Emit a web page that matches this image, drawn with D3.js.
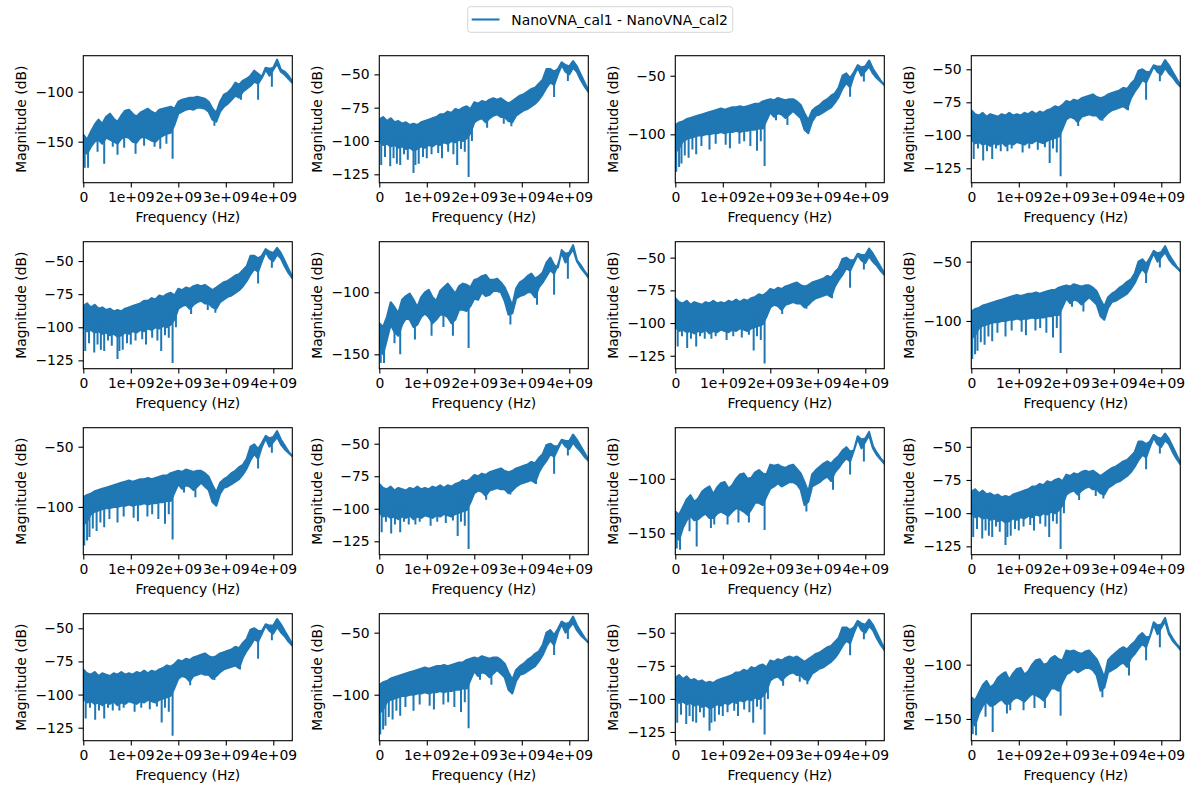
<!DOCTYPE html>
<html><head><meta charset="utf-8">
<script src="https://cdn.jsdelivr.net/npm/d3@7"></script>
<style>body{margin:0;background:#fff} text{font-family:"DejaVu Sans",sans-serif}</style>
</head><body><svg id="c" width="1200" height="800" xmlns="http://www.w3.org/2000/svg"></svg>
<script>
// ---- data ----
const sampleStepHz = 0.08e9;           // spacing of the band samples below
const xMaxHz = 4.4e9;
const xTickValues = [0, 1e9, 2e9, 3e9, 4e9];
const xTickLabels = ["0", "1e+09", "2e+09", "3e+09", "4e+09"];
const legendLabel = "NanoVNA_cal1 - NanoVNA_cal2";

// Each trace: top of the noisy band, bottom of the band (dB, one value per sample),
// and the narrow downward spikes [GHz, dB].
const topA1 = [-143,-148,-140,-133,-128,-132,-125,-122,-127,-130,-124,-119,-118,-122,-125,-121,-119,-117,-120,-122,
 -118,-117,-116,-115,-117,-110,-108,-107,-106,-106,-105,-106,-107,-110,-117,-121,-110,-103,-101,-97,
 -91,-93,-89,-87,-84,-79,-82,-85,-76,-77,-76,-68,-78,-80,-84,-90];
const botA1 = [-160,-162,-155,-150,-148,-152,-146,-148,-150,-152,-147,-145,-146,-150,-151,-146,-145,-147,-149,-150,
 -146,-144,-142,-141,-133,-122,-120,-118,-117,-118,-116,-116,-117,-120,-128,-130,-120,-115,-112,-108,
 -104,-106,-100,-97,-94,-90,-92,-86,-78,-84,-78,-72,-80,-83,-87,-91];
const spikesA1 = [[0.03,-176],[0.10,-176],[0.30,-160],[0.44,-172],[0.62,-155],[0.72,-163],[0.86,-156],[1.10,-162],
 [1.28,-154],[1.50,-155],[1.62,-157],[1.75,-152],[1.88,-167],[2.76,-134],[3.32,-108],[3.68,-108],[3.97,-95]];

const topA2 = [-125,-128,-120,-108,-112,-117,-106,-103,-101,-106,-112,-104,-100,-98,-104,-107,-99,-96,-93,-97,
 -101,-95,-93,-94,-96,-90,-89,-87,-86,-90,-90,-89,-92,-96,-103,-111,-97,-92,-90,-87,
 -85,-89,-87,-84,-76,-72,-78,-80,-66,-69,-68,-62,-74,-78,-83,-87];
const botA2 = [-145,-150,-138,-126,-132,-135,-126,-121,-122,-128,-126,-120,-117,-120,-125,-122,-118,-118,-120,-125,
 -122,-114,-114,-115,-111,-105,-106,-100,-103,-102,-99,-99,-100,-107,-118,-117,-105,-103,-102,-100,
 -100,-104,-96,-92,-87,-82,-85,-78,-68,-76,-70,-65,-75,-80,-84,-88];
const spikesA2 = [[0.03,-157],[0.10,-157],[0.32,-141],[0.44,-150],[0.75,-138],[1.10,-135],[1.35,-128],[1.55,-135],
 [1.88,-145],[2.76,-126],[3.32,-110],[3.68,-102],[3.97,-89]];

const topA3 = [-130,-133,-126,-119,-115,-121,-118,-112,-109,-107,-114,-108,-104,-103,-109,-106,-100,-96,-95,-100,
 -99,-94,-92,-95,-96,-87,-88,-87,-89,-90,-88,-87,-91,-95,-103,-112,-96,-92,-89,-86,
 -84,-86,-82,-79,-74,-71,-75,-74,-61,-64,-63,-57,-70,-76,-81,-85];
const botA3 = [-152,-156,-145,-138,-134,-138,-137,-134,-132,-136,-136,-132,-130,-132,-134,-130,-127,-128,-130,-133,
 -128,-122,-122,-124,-116,-109,-107,-104,-107,-105,-103,-103,-105,-110,-124,-121,-107,-105,-103,-100,
 -98,-102,-94,-90,-85,-81,-84,-74,-63,-72,-66,-60,-72,-78,-82,-86];
const spikesA3 = [[0.03,-164],[0.10,-165],[0.30,-148],[0.45,-162],[0.75,-145],[0.82,-142],[1.10,-142],[1.33,-140],
 [1.55,-140],[1.88,-147],[2.76,-130],[3.32,-110],[3.68,-96],[3.97,-84]];

const topB1 = [-84,-82,-85,-83,-86,-85,-87,-86,-88,-87,-88,-86,-85,-84,-83,-82,-80,-80,-78,-79,
 -76,-77,-75,-74,-76,-71,-72,-70,-71,-69,-68,-69,-68,-70,-72,-70,-68,-66,-65,-63,
 -61,-60,-57,-54,-46,-46,-48,-46,-41,-43,-44,-40,-44,-50,-56,-62];
const botB1 = [-100,-103,-102,-104,-103,-105,-104,-106,-105,-107,-106,-104,-105,-103,-104,-102,-103,-101,-102,-100,
 -101,-99,-100,-98,-94,-86,-84,-83,-86,-83,-81,-80,-82,-82,-85,-86,-81,-79,-77,-76,
 -74,-72,-69,-65,-60,-56,-58,-50,-43,-48,-50,-45,-48,-54,-59,-63];
const spikesB1 = [[0.04,-118],[0.12,-112],[0.23,-119],[0.30,-113],[0.37,-117],[0.44,-118],[0.52,-110],[0.60,-114],
 [0.72,-124],[0.76,-118],[0.83,-117],[0.92,-112],[1.00,-113],[1.10,-110],[1.24,-109],[1.32,-113],[1.45,-108],
 [1.56,-110],[1.64,-118],[1.72,-106],[1.80,-108],[1.88,-127],[1.95,-100],[2.27,-90],[2.62,-87],[2.78,-89],
 [3.68,-67],[3.97,-55]];

const topB2 = [-81,-84,-85,-83,-86,-84,-85,-86,-84,-85,-83,-85,-84,-85,-83,-84,-82,-84,-82,-83,
 -81,-80,-78,-79,-77,-74,-75,-73,-74,-72,-71,-70,-69,-71,-72,-71,-69,-68,-67,-66,
 -64,-65,-61,-58,-51,-50,-52,-52,-47,-48,-48,-43,-47,-52,-57,-62];
const botB2 = [-103,-106,-105,-107,-106,-108,-106,-107,-105,-108,-106,-107,-105,-106,-107,-105,-106,-104,-105,-106,
 -104,-103,-102,-101,-95,-88,-86,-87,-90,-86,-85,-84,-85,-85,-88,-86,-83,-81,-80,-79,
 -78,-80,-72,-67,-63,-58,-60,-54,-48,-52,-54,-49,-53,-56,-60,-63];
const spikesB2 = [[0.05,-118],[0.14,-110],[0.25,-119],[0.33,-112],[0.44,-118],[0.52,-110],[0.62,-112],[0.76,-112],
 [0.85,-110],[1.08,-113],[1.22,-110],[1.40,-111],[1.55,-109],[1.65,-121],[1.72,-110],[1.80,-113],[1.88,-131],
 [2.25,-93],[2.76,-89],[3.30,-81],[3.68,-73],[3.97,-59]];

const topC = [-92,-90,-89,-87,-86,-85,-84,-83,-82,-81,-80,-79,-78,-79,-78,-77,-77,-76,-77,-76,
 -75,-74,-74,-72,-71,-70,-71,-69,-70,-71,-70,-70,-72,-75,-82,-88,-80,-77,-75,-72,
 -70,-67,-65,-60,-50,-48,-52,-47,-41,-43,-42,-37,-44,-49,-54,-58];
const botC = [-115,-112,-106,-104,-103,-102,-101,-101,-100,-100,-99,-99,-98,-99,-98,-98,-97,-98,-97,-97,
 -96,-96,-95,-95,-88,-81,-85,-82,-83,-86,-83,-80,-83,-86,-96,-99,-89,-84,-83,-81,
 -79,-77,-73,-68,-61,-56,-60,-50,-43,-50,-46,-42,-48,-52,-55,-58];
const spikesC = [[0.02,-132],[0.08,-128],[0.13,-125],[0.20,-118],[0.28,-120],[0.36,-113],[0.44,-117],[0.55,-110],
 [0.72,-113],[0.85,-108],[1.06,-109],[1.15,-112],[1.35,-108],[1.45,-106],[1.58,-110],[1.72,-114],[1.80,-106],
 [1.88,-127],[2.12,-88],[2.36,-92],[3.68,-68],[3.97,-55]];

// which trace each of the 16 panels shows (row by row)
const panelTraces = ["A1","B1","C","B2", "B1","A2","B2","C", "C","B2","A3","B1", "B2","C","B1","A3"];
// y-axis limits of each panel (dB)
const panelYMin = [-191,-131.3,-141.3,-135.9, -131.3,-161.6,-134.9,-140.2, -139.7,-135.3,-169.6,-131.3, -134.8,-137.1,-131.6,-170];
const panelYMax = [-64,-36,-32.9,-39.7, -35.4,-59.2,-37.8,-33.2, -34.2,-37.7,-53.1,-35.6, -39.0,-34.7,-35.6,-53.1];
// y tick values of each panel
const ticks4 = [-125,-100,-75,-50], ticksC = [-100,-50], ticksA = [-150,-100];
const panelYTicks = [ticksA,ticks4,ticksC,ticks4, ticks4,ticksA,ticks4,ticksC, ticksC,ticks4,ticksA,ticks4, ticks4,ticksC,ticks4,ticksA];

// ---- drawing ----
const traces = {
  A1: {top: topA1, bot: botA1, spikes: spikesA1},
  A2: {top: topA2, bot: botA2, spikes: spikesA2},
  A3: {top: topA3, bot: botA3, spikes: spikesA3},
  B1: {top: topB1, bot: botB1, spikes: spikesB1},
  B2: {top: topB2, bot: botB2, spikes: spikesB2},
  C:  {top: topC,  bot: botC,  spikes: spikesC}
};
const colLeft = [83.3, 379.3, 675.3, 971.3];
const rowTop = [55.7, 241.7, 427.7, 613.7];
const W = 209, H = 127;
const blue = "#1f77b4";
const fs = "13.9px";
const minus = s => String(s).replace("-", "\u2212");

const svg = d3.select("#c");
svg.append("rect").attr("width",1200).attr("height",800).attr("fill","#fff");

const x = d3.scaleLinear().domain([0, xMaxHz]).range([0, W]);

panelTraces.forEach((key, p) => {
  const r = Math.floor(p / 4), c = p % 4;
  const g = svg.append("g").attr("transform", `translate(${colLeft[c]},${rowTop[r]})`);
  const y = d3.scaleLinear().domain([panelYMin[p], panelYMax[p]]).range([H, 0]);
  const t = traces[key];
  const rows = t.top.map((v, i) => ({f: i * sampleStepHz, top: v, bot: t.bot[i]}));

  g.append("clipPath").attr("id", "clip" + p).append("rect").attr("width", W).attr("height", H);
  const plot = g.append("g").attr("clip-path", `url(#clip${p})`);

  plot.append("path")
    .attr("d", d3.area().x(d => x(d.f)).y0(d => y(d.bot)).y1(d => y(d.top))(rows))
    .attr("fill", blue).attr("stroke", blue).attr("stroke-width", 2.08)
    .attr("stroke-linejoin", "round");

  plot.selectAll("path.spike").data(t.spikes).join("path").attr("class", "spike")
    .attr("d", s => {
      const j = Math.min(rows.length - 1, Math.round(s[0] * 1e9 / sampleStepHz));
      const mid = (rows[j].top + rows[j].bot) / 2;
      return d3.line()([[x(s[0] * 1e9), y(mid)], [x(s[0] * 1e9), y(s[1])]]);
    })
    .attr("fill", "none").attr("stroke", blue).attr("stroke-width", 2).attr("stroke-linecap", "butt");

  // axes
  const xa = g.append("g").attr("transform", `translate(0,${H})`)
    .call(d3.axisBottom(x).tickValues(xTickValues).tickFormat((d, i) => xTickLabels[i]).tickSize(4.86).tickPadding(4.3).tickSizeOuter(0));
  const ya = g.append("g")
    .call(d3.axisLeft(y).tickValues(panelYTicks[p]).tickFormat(d => minus(d)).tickSize(4.86).tickPadding(4.86).tickSizeOuter(0));
  [xa, ya].forEach(a => {
    a.select(".domain").remove();
    a.selectAll("line").attr("stroke", "#000").attr("stroke-width", 1.1);
    a.selectAll("text").attr("fill", "#000").style("font-size", fs).style("font-family", "DejaVu Sans");
  });

  g.append("rect").attr("width", W).attr("height", H).attr("fill", "none")
    .attr("stroke", "#000").attr("stroke-width", 1.1);

  g.append("text").attr("x", W / 2).attr("y", H + 39).attr("text-anchor", "middle")
    .style("font-size", fs).text("Frequency (Hz)");
  g.append("text").attr("transform", `translate(-57.6,${H / 2}) rotate(-90)`).attr("text-anchor", "middle")
    .style("font-size", fs).text("Magnitude (dB)");
});

// legend
const lg = svg.append("g");
lg.append("rect").attr("x", 467.7).attr("y", 6.7).attr("width", 265).attr("height", 25.6).attr("rx", 2.8)
  .attr("fill", "#fff").attr("stroke", "#d6d6d6").attr("stroke-width", 1);
lg.append("line").attr("x1", 471.7).attr("x2", 499.5).attr("y1", 19.5).attr("y2", 19.5)
  .attr("stroke", blue).attr("stroke-width", 2.08);
lg.append("text").attr("x", 511.3).attr("y", 24.6).style("font-size", fs).text(legendLabel);
</script></body></html>
